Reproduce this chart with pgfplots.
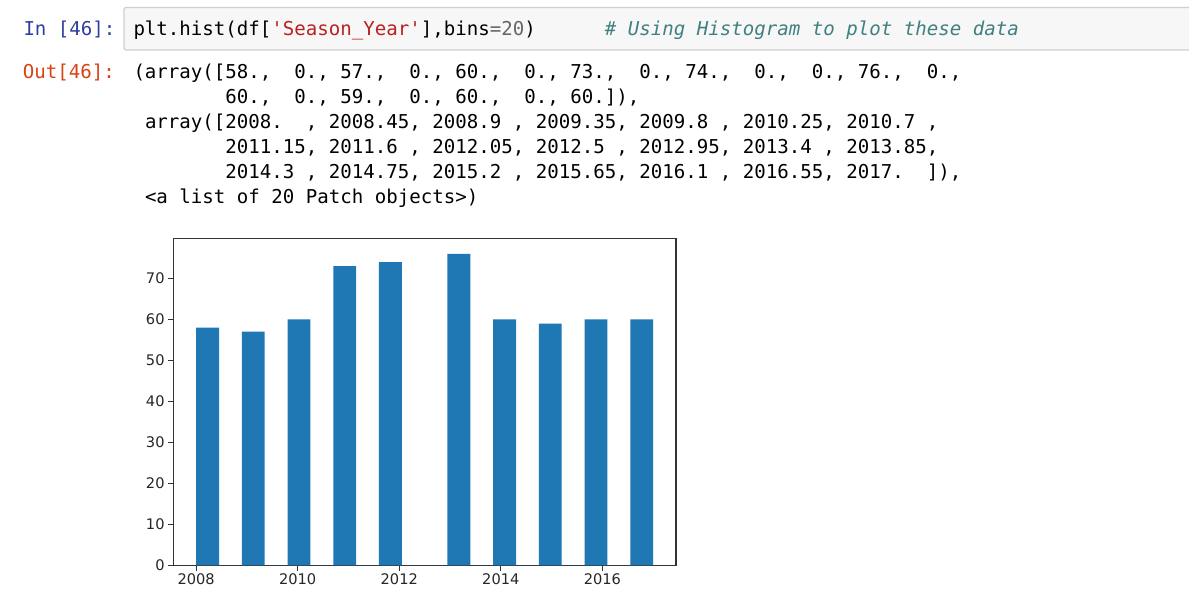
\documentclass[border=0pt]{standalone}
\usepackage{fontspec}
\setmainfont{DejaVu Sans}
\setmonofont{DejaVu Sans Mono}
\usepackage{pgfplots}
\pgfplotsset{compat=1.18}
\definecolor{tabblue}{HTML}{1F77B4}
\definecolor{inprompt}{HTML}{303F9F}
\definecolor{outprompt}{HTML}{D84315}
\definecolor{strred}{HTML}{BA2121}
\definecolor{comm}{HTML}{408080}
\definecolor{opgray}{HTML}{666666}
\definecolor{boxfill}{HTML}{F7F7F7}
\definecolor{boxline}{HTML}{CFCFCF}
\newcommand\code{\ttfamily\fontsize{19.1}{23}\selectfont\frenchspacing}
\begin{document}
\begin{tikzpicture}[x=1pt,y=1pt]
\path[use as bounding box] (0,0) rectangle (1189,-613);
\begin{scope}
\clip (0,0) rectangle (1189,-613);
\draw[boxline, fill=boxfill, line width=1.2pt, rounded corners=2pt] (124,-7.5) rectangle (1200,-50);
\end{scope}
% input prompt and code
\node[anchor=base west, inner sep=0, text=inprompt] at (23.3,-35) {\code In~[46]:};
\node[anchor=base west, inner sep=0] at (133.3,-35) {\code plt.hist(df[\textcolor{strred}{'Season\_Year'}],bins\textcolor{opgray}{=20})~~~~~~\textcolor{comm}{\itshape\#~Using~Histogram~to~plot~these~data}};
% output prompt and text
\node[anchor=base west, inner sep=0, text=outprompt] at (22.7,-78.3) {\code Out[46]:};
\node[anchor=base west, inner sep=0] at (133.3,-78.3) {\code (array([58.,~~0.,~57.,~~0.,~60.,~~0.,~73.,~~0.,~74.,~~0.,~~0.,~76.,~~0.,};
\node[anchor=base west, inner sep=0] at (133.3,-103.3) {\code ~~~~~~~~60.,~~0.,~59.,~~0.,~60.,~~0.,~60.]),};
\node[anchor=base west, inner sep=0] at (133.3,-128.3) {\code ~array([2008.~~,~2008.45,~2008.9~,~2009.35,~2009.8~,~2010.25,~2010.7~,};
\node[anchor=base west, inner sep=0] at (133.3,-153.3) {\code ~~~~~~~~2011.15,~2011.6~,~2012.05,~2012.5~,~2012.95,~2013.4~,~2013.85,};
\node[anchor=base west, inner sep=0] at (133.3,-178.3) {\code ~~~~~~~~2014.3~,~2014.75,~2015.2~,~2015.65,~2016.1~,~2016.55,~2017.~~]),};
\node[anchor=base west, inner sep=0] at (133.3,-203.3) {\code ~<a~list~of~20~Patch~objects>)};
% histogram
\begin{axis}[
  at={(173.3pt,-565.3pt)}, anchor=south west,
  width=502.7pt, height=327pt, scale only axis,
  xmin=2007.55, xmax=2017.45, ymin=0, ymax=79.8,
  xtick={2008,2010,2012,2014,2016},
  ytick={0,10,20,30,40,50,60,70},
  xtick pos=bottom, ytick pos=left,
  tick align=outside, major tick length=5.25pt,
  every tick/.style={black!80, line width=1.2pt},
  axis line style={black!80, line width=1.2pt},
  tick label style={font=\fontsize{14.6}{17}\selectfont, color=black!85},
  /pgf/number format/assume math mode=true,
  /pgf/number format/1000 sep={},
]
\addplot[ybar interval, fill=tabblue, draw=none] coordinates {
 (2008,58) (2008.45,0) (2008.9,57) (2009.35,0) (2009.8,60) (2010.25,0)
 (2010.7,73) (2011.15,0) (2011.6,74) (2012.05,0) (2012.5,0) (2012.95,76)
 (2013.4,0) (2013.85,60) (2014.3,0) (2014.75,59) (2015.2,0) (2015.65,60)
 (2016.1,0) (2016.55,60) (2017,60)
};
\end{axis}
\end{tikzpicture}
\end{document}
